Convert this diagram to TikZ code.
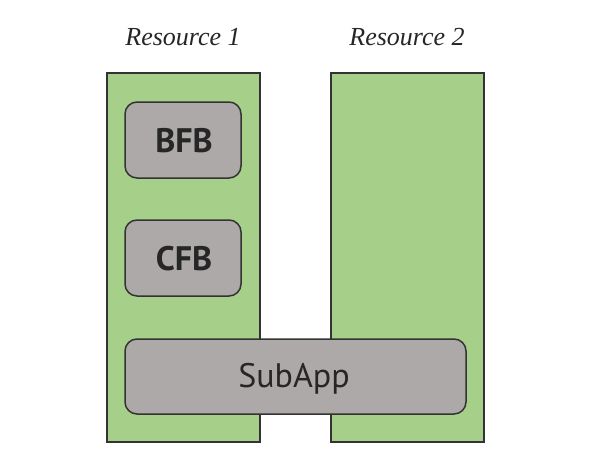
\documentclass[tikz,border=0pt]{standalone}
\usepackage{fontspec}
\setmainfont{Liberation Serif}
\newfontfamily\labfont{PT Sans}
\definecolor{resgreen}{HTML}{A6CF8A}
\definecolor{fbgray}{HTML}{ADA9A8}
\definecolor{edge}{HTML}{333333}
\begin{document}
\begin{tikzpicture}[x=1pt,y=-1pt,
  res/.style={draw=edge,fill=resgreen,line width=1.5pt},
  fb/.style={draw=edge,fill=fbgray,line width=1.5pt,rounded corners=12pt},
  fbtext/.style={anchor=base,inner sep=0pt,font=\labfont\fontsize{34}{34}\selectfont\bfseries,text=black!85},
  title/.style={anchor=base,inner sep=0pt,font=\fontsize{26}{26}\selectfont\itshape,text=black!85}]
\useasboundingbox (0,0) rectangle (595,469);
\draw[res] (107,73) rectangle (260,442);
\draw[res] (331,73) rectangle (484,442);
\node[title] (t1) at (183,45) {Resource 1};
\node[title] (t2) at (407,45) {Resource 2};
\draw[fb] (125,102) rectangle (241,178);
\node[fbtext] (bfb) at (184,152) {BFB};
\draw[fb] (125,220) rectangle (241,296);
\node[fbtext] (cfb) at (184,270) {CFB};
\draw[fb] (125,339) rectangle (466,414);
\node[fbtext,font=\labfont\fontsize{34}{34}\selectfont] (sub) at (294,387) {SubApp};
\end{tikzpicture}
\end{document}
